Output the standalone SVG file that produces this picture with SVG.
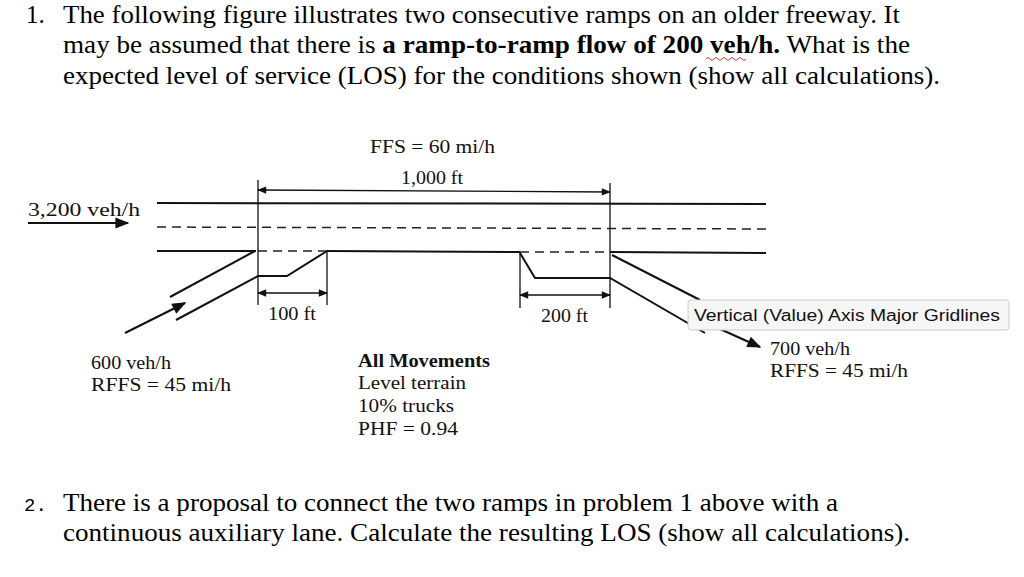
<svg xmlns="http://www.w3.org/2000/svg" width="1024" height="577" viewBox="0 0 1024 577">
<style>
.q{font-family:"Liberation Serif",serif;font-size:25px;fill:#000}
.l{font-family:"Liberation Serif",serif;font-size:18px;fill:#111}
.s{stroke:#111;stroke-width:2;fill:none}
.t{stroke:#111;stroke-width:1.3;fill:none}
.d{stroke:#222;stroke-width:1.5;stroke-dasharray:9 6;fill:none}
</style>
<defs>
<marker id="a" viewBox="0 0 10 10" refX="9" refY="5" markerWidth="9" markerHeight="7" orient="auto-start-reverse"><path d="M0,1L10,5L0,9z" fill="#111"/></marker>
</defs>
<rect width="1024" height="577" fill="#fff"/>
<text class="q" x="26" y="23">1.</text>
<text class="q" x="63" y="23" textLength="837" lengthAdjust="spacingAndGlyphs">The following figure illustrates two consecutive ramps on an older freeway. It</text>
<text class="q" x="63" y="53" textLength="847" lengthAdjust="spacingAndGlyphs">may be assumed that there is <tspan font-weight="bold">a ramp-to-ramp flow of 200 veh/h.</tspan> What is the</text>
<path d="M706 59q2-3 4 0t4 0t4 0t4 0t4 0t4 0t4 0t4 0t4 0t4 0" stroke="#d33" stroke-width="1" fill="none"/>
<text class="q" x="63" y="84" textLength="877" lengthAdjust="spacingAndGlyphs">expected level of service (LOS) for the conditions shown (show all calculations).</text>
<text x="24" y="511" font-family="Liberation Mono,monospace" font-size="19">2.</text>
<text class="q" x="63" y="511" textLength="775" lengthAdjust="spacingAndGlyphs">There is a proposal to connect the two ramps in problem 1 above with a</text>
<text class="q" x="63" y="541" textLength="847" lengthAdjust="spacingAndGlyphs">continuous auxiliary lane. Calculate the resulting LOS (show all calculations).</text>
<g id="freeway">
<line class="s" x1="157" y1="203" x2="766" y2="204"/>
<line class="d" x1="157" y1="227" x2="766" y2="229"/>
<line class="s" x1="157" y1="251" x2="256" y2="251"/>
<line class="d" x1="258" y1="251" x2="327" y2="251"/>
<line class="s" x1="327" y1="251" x2="520" y2="252"/>
<line class="d" x1="520" y1="252" x2="610" y2="252"/>
<line class="s" x1="610" y1="252" x2="766" y2="253"/>
<line class="t" x1="258" y1="180" x2="258" y2="305"/>
<line class="t" x1="610" y1="183" x2="610" y2="308"/>
<line class="t" x1="327" y1="251" x2="327" y2="305"/>
<line class="t" x1="520" y1="252" x2="520" y2="308"/>
</g>
<g id="onramp">
<line class="s" x1="170" y1="297" x2="255" y2="251"/>
<polyline class="s" points="176,320 258,276 287,276 327,251"/>
</g>
<g id="offramp">
<polyline class="s" points="520,253 535,278 610,278 705,333"/>
<line class="s" x1="612" y1="255" x2="700" y2="300"/>
</g>
<g id="connectors">
<line class="t" x1="258" y1="190" x2="610" y2="192" marker-start="url(#a)" marker-end="url(#a)"/>
<line class="t" x1="258" y1="293" x2="327" y2="293" marker-start="url(#a)" marker-end="url(#a)"/>
<line class="t" x1="520" y1="295" x2="610" y2="295" marker-start="url(#a)" marker-end="url(#a)"/>
<line class="s" x1="28" y1="223" x2="128" y2="223" marker-end="url(#a)"/>
<line class="s" x1="125" y1="333" x2="185" y2="303" marker-end="url(#a)"/>
<line class="s" x1="700" y1="320" x2="760" y2="347" marker-end="url(#a)"/>
</g>
<g id="labels">
<text class="l" x="370" y="153" textLength="125" lengthAdjust="spacingAndGlyphs">FFS = 60 mi/h</text>
<text class="l" x="401" y="184" textLength="62" lengthAdjust="spacingAndGlyphs">1,000 ft</text>
<text class="l" x="28" y="216" textLength="112" lengthAdjust="spacingAndGlyphs">3,200 veh/h</text>
<text class="l" x="268" y="320" textLength="48" lengthAdjust="spacingAndGlyphs">100 ft</text>
<text class="l" x="541" y="322" textLength="47" lengthAdjust="spacingAndGlyphs">200 ft</text>
<text class="l" x="91" y="369" textLength="80" lengthAdjust="spacingAndGlyphs">600 veh/h</text>
<text class="l" x="91" y="391" textLength="140" lengthAdjust="spacingAndGlyphs">RFFS = 45 mi/h</text>
<text class="l" x="358" y="367" font-weight="bold" textLength="132" lengthAdjust="spacingAndGlyphs">All Movements</text>
<text class="l" x="358" y="389" textLength="108" lengthAdjust="spacingAndGlyphs">Level terrain</text>
<text class="l" x="358" y="412" textLength="96" lengthAdjust="spacingAndGlyphs">10% trucks</text>
<text class="l" x="358" y="435" textLength="100" lengthAdjust="spacingAndGlyphs">PHF = 0.94</text>
<text class="l" x="770" y="355" textLength="80" lengthAdjust="spacingAndGlyphs">700 veh/h</text>
<text class="l" x="770" y="377" textLength="138" lengthAdjust="spacingAndGlyphs">RFFS = 45 mi/h</text>
</g>
<g id="tooltip">
<rect x="688" y="300" width="321" height="30" rx="3" fill="#f6f6f6" stroke="#ccc"/>
<text x="694" y="321" font-family="Liberation Sans,sans-serif" font-size="16" fill="#111" textLength="306" lengthAdjust="spacingAndGlyphs">Vertical (Value) Axis Major Gridlines</text>
</g>
</svg>
